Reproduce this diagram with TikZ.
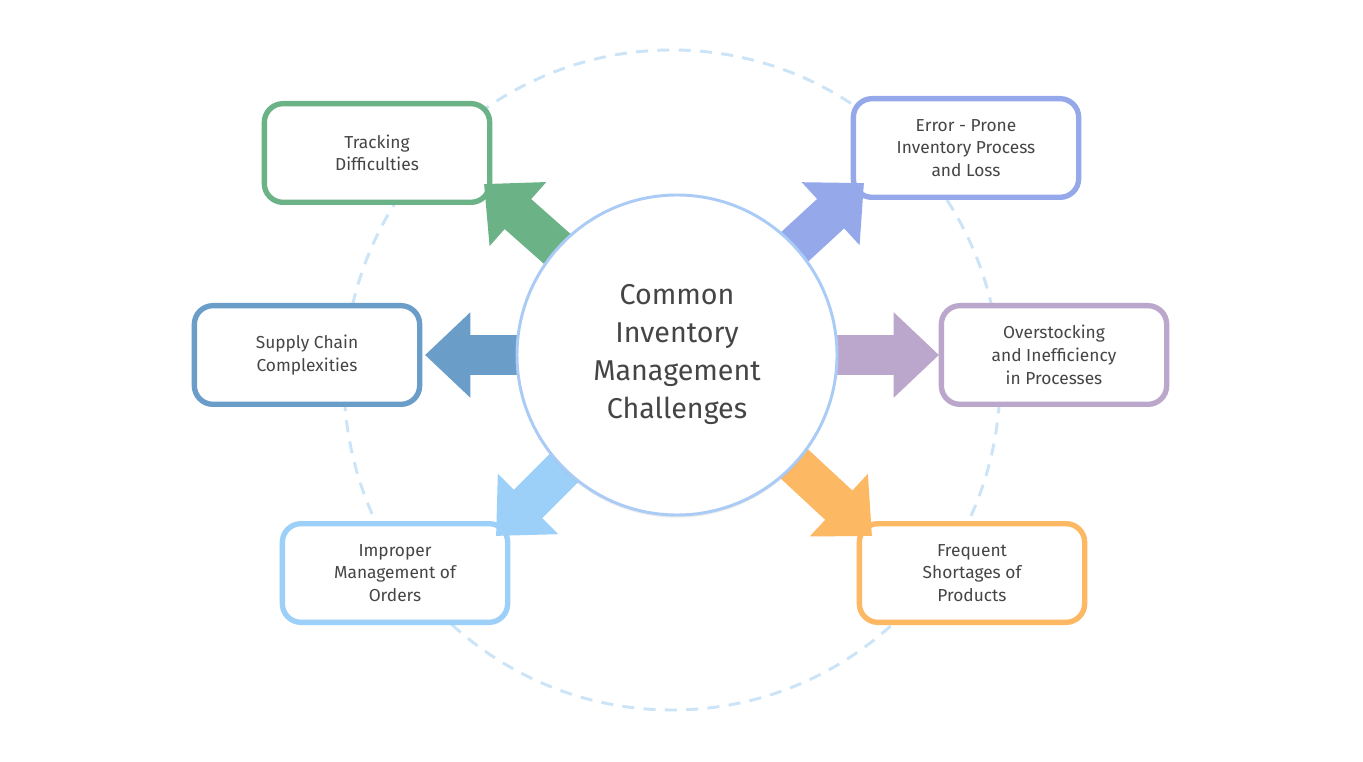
\documentclass[tikz,border=0pt]{standalone}
\usepackage{fontspec}
\setmainfont{Fira Sans}
\usetikzlibrary{arrows.meta,shadows}
\definecolor{cgreen}{HTML}{6BB286}
\definecolor{cviolet}{HTML}{94A8EA}
\definecolor{cblue}{HTML}{6A9DC8}
\definecolor{clilac}{HTML}{BBA7CB}
\definecolor{csky}{HTML}{9CD0F8}
\definecolor{corange}{HTML}{FDB863}
\definecolor{cring}{HTML}{CBE4F8}
\definecolor{ccirc}{HTML}{A9CBF5}
\definecolor{ctext}{HTML}{454545}
\begin{document}
\begin{tikzpicture}[x=0.75pt,y=-0.75pt,
  box/.style={draw, line width=4pt, rounded corners=14pt, fill=white, minimum width=169pt, minimum height=74pt, align=center, text=ctext, font=\fontsize{13}{17}\selectfont},
  blk/.style={line width=30pt, -{Triangle[length=34pt,width=62pt]}}]
\useasboundingbox (0,0) rectangle (1363,762);
\fill[white] (0,0) rectangle (1363,762);
\draw[cring, line width=2.2pt, dash pattern=on 9pt off 7pt] (672,380) ellipse [x radius=328, y radius=330];
\node[box, draw=cgreen] (b1) at (377,153) {Tracking\\Difficulties};
\node[box, draw=cviolet] (b2) at (966,148) {Error - Prone\\Inventory Process\\and Loss};
\node[box, draw=cblue] (b3) at (307,355) {Supply Chain\\Complexities};
\node[box, draw=clilac] (b4) at (1054,355) {Overstocking\\and Inefficiency\\in Processes};
\node[box, draw=csky] (b5) at (395,573) {Improper\\Management of\\Orders};
\node[box, draw=corange] (b6) at (972,573) {Frequent\\Shortages of\\Products};
\coordinate (c) at (677,355);
\coordinate (t1) at (484,184);
\coordinate (t2) at (864,183);
\coordinate (t3) at (425,355);
\coordinate (t4) at (939,355);
\coordinate (t5) at (496,536);
\coordinate (t6) at (872,536);
\draw[blk, cgreen] (c) -- (t1);
\draw[blk, cviolet] (c) -- (t2);
\draw[blk, cblue] (c) -- (t3);
\draw[blk, clilac] (c) -- (t4);
\draw[blk, csky] (c) -- (t5);
\draw[blk, corange] (c) -- (t6);
\node[circle, draw=ccirc, line width=2.2pt, fill=white, minimum size=240pt, drop shadow={opacity=0.15, shadow xshift=0pt, shadow yshift=-2pt}, align=center, text=ctext, font=\fontsize{21.5}{28.5}\selectfont] (m) at (c) {Common\\Inventory\\Management\\Challenges};
\end{tikzpicture}
\end{document}
